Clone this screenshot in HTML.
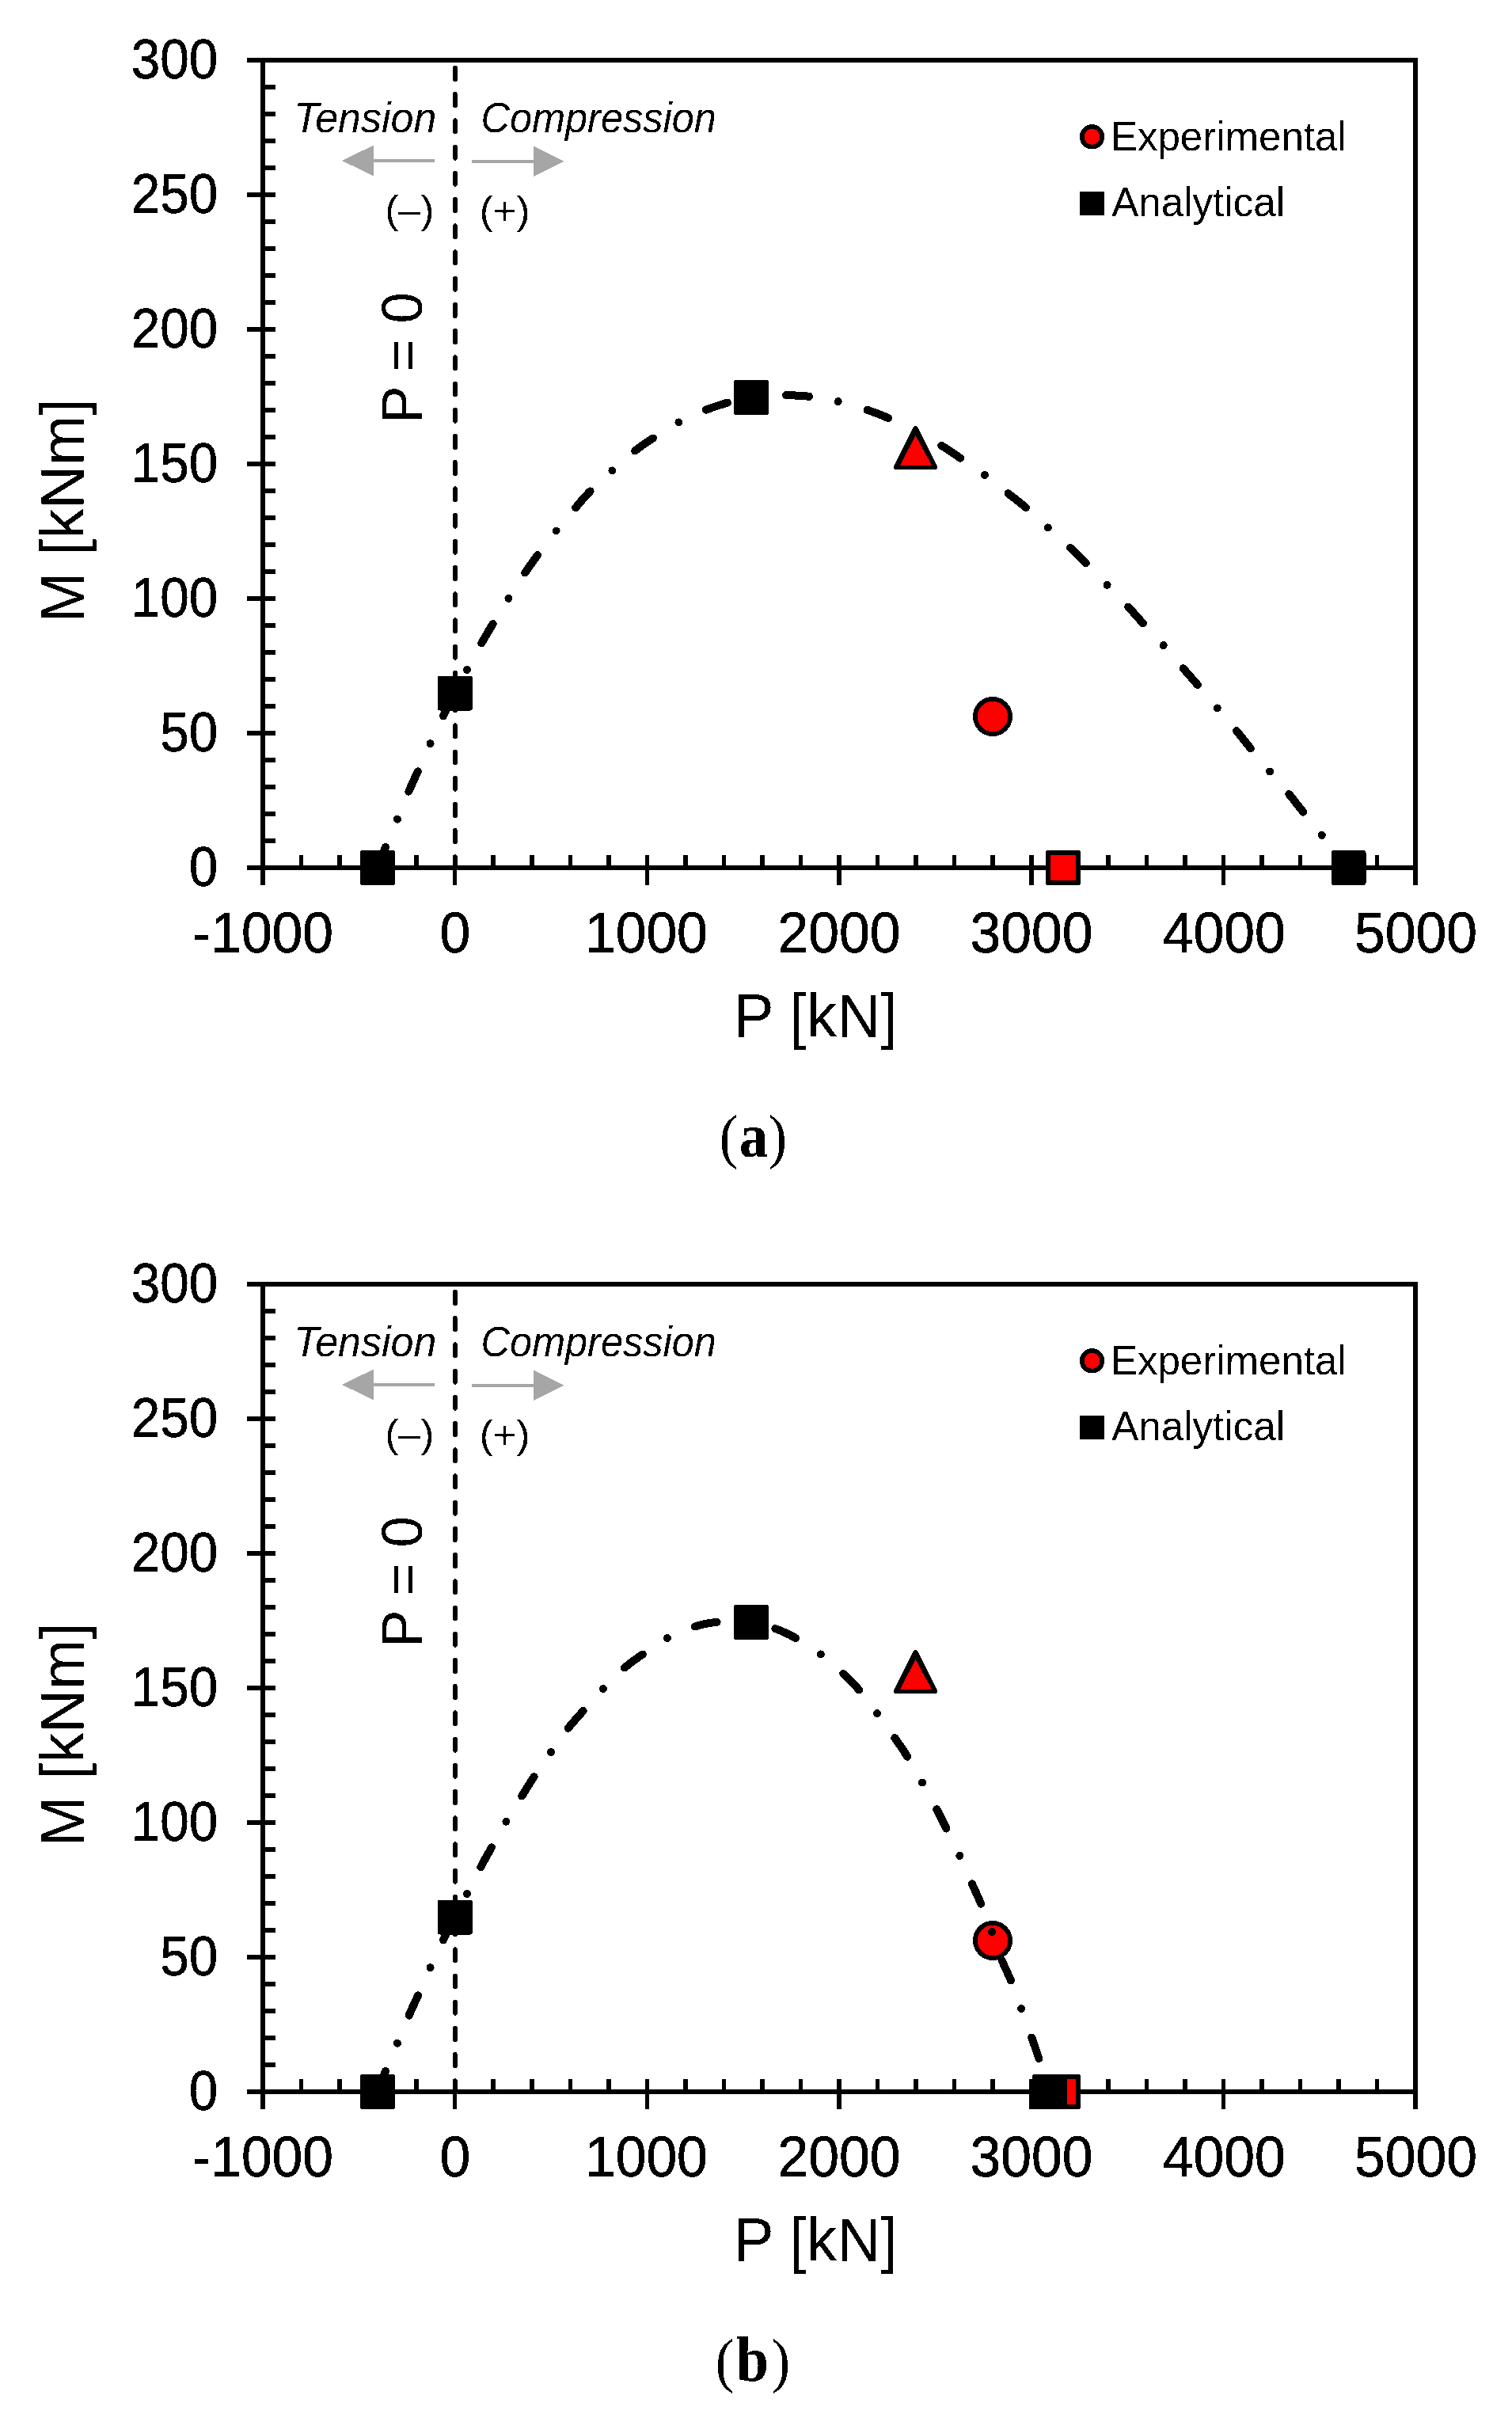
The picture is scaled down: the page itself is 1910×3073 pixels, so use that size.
<!DOCTYPE html>
<html lang="en">
<head>
<meta charset="utf-8">
<title>P-M interaction diagrams</title>
<style>
html,body{margin:0;padding:0;background:#fff}
body{width:1910px;height:3073px;overflow:hidden}
svg{display:block}
text{white-space:pre}
</style>
</head>
<body>
<svg width="1910" height="3073" viewBox="0 0 1910 3073" font-family="'Liberation Sans', Arial, Helvetica, sans-serif" fill="#000" shape-rendering="crispEdges">
<defs><filter id="bw" filterUnits="userSpaceOnUse" x="0" y="0" width="1910" height="1540" color-interpolation-filters="sRGB"><feComponentTransfer><feFuncA type="discrete" tableValues="0 1"/></feComponentTransfer></filter></defs>
<rect width="1910" height="3073" fill="#fff"/>
<g><rect x="312" y="73.23" width="1478.97" height="5.54" fill="#000"/>
<rect x="312" y="1093.23" width="1478.97" height="5.54" fill="#000"/>
<rect x="329.23" y="73.23" width="5.54" height="1044.77" fill="#000"/>
<rect x="1785.43" y="73.23" width="5.54" height="1044.77" fill="#000"/>
<rect x="312" y="1093.23" width="36" height="5.54" fill="#000"/>
<rect x="332" y="1059.23" width="16" height="5.54" fill="#000"/>
<rect x="332" y="1025.23" width="16" height="5.54" fill="#000"/>
<rect x="332" y="991.23" width="16" height="5.54" fill="#000"/>
<rect x="332" y="957.23" width="16" height="5.54" fill="#000"/>
<rect x="312" y="923.23" width="36" height="5.54" fill="#000"/>
<rect x="332" y="889.23" width="16" height="5.54" fill="#000"/>
<rect x="332" y="855.23" width="16" height="5.54" fill="#000"/>
<rect x="332" y="821.23" width="16" height="5.54" fill="#000"/>
<rect x="332" y="787.23" width="16" height="5.54" fill="#000"/>
<rect x="312" y="753.23" width="36" height="5.54" fill="#000"/>
<rect x="332" y="719.23" width="16" height="5.54" fill="#000"/>
<rect x="332" y="685.23" width="16" height="5.54" fill="#000"/>
<rect x="332" y="651.23" width="16" height="5.54" fill="#000"/>
<rect x="332" y="617.23" width="16" height="5.54" fill="#000"/>
<rect x="312" y="583.23" width="36" height="5.54" fill="#000"/>
<rect x="332" y="549.23" width="16" height="5.54" fill="#000"/>
<rect x="332" y="515.23" width="16" height="5.54" fill="#000"/>
<rect x="332" y="481.23" width="16" height="5.54" fill="#000"/>
<rect x="332" y="447.23" width="16" height="5.54" fill="#000"/>
<rect x="312" y="413.23" width="36" height="5.54" fill="#000"/>
<rect x="332" y="379.23" width="16" height="5.54" fill="#000"/>
<rect x="332" y="345.23" width="16" height="5.54" fill="#000"/>
<rect x="332" y="311.23" width="16" height="5.54" fill="#000"/>
<rect x="332" y="277.23" width="16" height="5.54" fill="#000"/>
<rect x="312" y="243.23" width="36" height="5.54" fill="#000"/>
<rect x="332" y="209.23" width="16" height="5.54" fill="#000"/>
<rect x="332" y="175.23" width="16" height="5.54" fill="#000"/>
<rect x="332" y="141.23" width="16" height="5.54" fill="#000"/>
<rect x="332" y="107.23" width="16" height="5.54" fill="#000"/>
<rect x="312" y="73.23" width="36" height="5.54" fill="#000"/>
<rect x="329.23" y="1080" width="5.54" height="38" fill="#000"/>
<rect x="377.77" y="1080" width="5.54" height="16" fill="#000"/>
<rect x="426.31" y="1080" width="5.54" height="16" fill="#000"/>
<rect x="474.85" y="1080" width="5.54" height="16" fill="#000"/>
<rect x="523.39" y="1080" width="5.54" height="16" fill="#000"/>
<rect x="571.93" y="1080" width="5.54" height="38" fill="#000"/>
<rect x="620.47" y="1080" width="5.54" height="16" fill="#000"/>
<rect x="669.01" y="1080" width="5.54" height="16" fill="#000"/>
<rect x="717.55" y="1080" width="5.54" height="16" fill="#000"/>
<rect x="766.09" y="1080" width="5.54" height="16" fill="#000"/>
<rect x="814.63" y="1080" width="5.54" height="38" fill="#000"/>
<rect x="863.17" y="1080" width="5.54" height="16" fill="#000"/>
<rect x="911.71" y="1080" width="5.54" height="16" fill="#000"/>
<rect x="960.25" y="1080" width="5.54" height="16" fill="#000"/>
<rect x="1008.79" y="1080" width="5.54" height="16" fill="#000"/>
<rect x="1057.33" y="1080" width="5.54" height="38" fill="#000"/>
<rect x="1105.87" y="1080" width="5.54" height="16" fill="#000"/>
<rect x="1154.41" y="1080" width="5.54" height="16" fill="#000"/>
<rect x="1202.95" y="1080" width="5.54" height="16" fill="#000"/>
<rect x="1251.49" y="1080" width="5.54" height="16" fill="#000"/>
<rect x="1300.03" y="1080" width="5.54" height="38" fill="#000"/>
<rect x="1348.57" y="1080" width="5.54" height="16" fill="#000"/>
<rect x="1397.11" y="1080" width="5.54" height="16" fill="#000"/>
<rect x="1445.65" y="1080" width="5.54" height="16" fill="#000"/>
<rect x="1494.19" y="1080" width="5.54" height="16" fill="#000"/>
<rect x="1542.73" y="1080" width="5.54" height="38" fill="#000"/>
<rect x="1591.27" y="1080" width="5.54" height="16" fill="#000"/>
<rect x="1639.81" y="1080" width="5.54" height="16" fill="#000"/>
<rect x="1688.35" y="1080" width="5.54" height="16" fill="#000"/>
<rect x="1736.89" y="1080" width="5.54" height="16" fill="#000"/>
<rect x="1785.43" y="1080" width="5.54" height="38" fill="#000"/>
<path d="M575 85.67V1096.5" fill="none" stroke="#000" stroke-width="5.54" stroke-linecap="round" stroke-dasharray="14.56 18.654"/>
<rect x="470" y="200.8" width="78.8" height="4.3" fill="#a6a6a6"/>
<path d="M431.9 202.9L471.7 183.6V222.2Z" fill="#a6a6a6"/>
<rect x="595.9" y="201.9" width="79.1" height="4.3" fill="#a6a6a6"/>
<path d="M712.2 203.7L673.8 184.2V223.2Z" fill="#a6a6a6"/>
<circle cx="1379.5" cy="172.8" r="12.8" fill="#f00" stroke="#000" stroke-width="5.75"/>
<rect x="1364" y="242" width="31" height="30" fill="#000"/>
<path d="M476.9 1096C478.58 1091.67 482.83 1080.22 487 1070M516.4 999.6C520.7 989.55 523.17 984.47 527.7 974.4M560 904.3C564.73 894.1 567.02 887.73 572 878M608.3 812.4C613.75 802.75 616.92 797.43 622.6 788M663.3 723.5C669.42 714.38 672.55 709.93 679.1 701.1M727.1 641.2C734.27 632.85 737.88 628.2 745.6 620.4M802.1 569.4C810.7 562.58 815.78 559.5 825 553.5M891.9 517.7C902.15 513.58 908.22 511.68 918.9 508.7M993.1 499.2C1004.12 499.37 1011.17 499.48 1022.1 500.8M1095.5 517.7C1106.07 521.18 1111.93 523.45 1122.1 528M1189.3 562.9C1198.73 568.5 1204 572.43 1213.1 578.6M1273.6 623.3C1282.28 630.17 1287.63 633.92 1296 641.1M1352 691.9C1360 699.37 1364.03 703.38 1371.8 711.2M1425.2 766.5C1432.75 774.58 1436.48 779.2 1443.9 787.3M1494.7 844.2C1501.9 852.53 1505.73 856.73 1512.9 865.1M1562.1 923.2C1569.12 931.68 1572.8 936.75 1579.8 945.3M1628.3 1003C1635.32 1011.52 1639.28 1016.95 1646.2 1025.6M1692 1082C1697.62 1088.85 1701.58 1093.67 1703.5 1096M501.9 1034.7h0.01M543.6 939.2h0.01M589.9 845.9h0.01M642.4 755.8h0.01M702.6 670.5h0.01M773.4 594.4h0.01M857.4 533.4h0.01M956 499.8h0.01M1058.7 507.1h0.01M1156.5 545h0.01M1243.9 599.9h0.01M1323.8 666.4h0.01M1398.6 738.8h0.01M1469.7 815.1h0.01M1537.7 894.4h0.01M1604.1 974.5h0.01M1669.8 1054.9h0.01" fill="none" stroke="#000" stroke-width="10" stroke-linecap="round"/>
<rect x="457.67" y="1076.77" width="38.46" height="38.46" fill="#000" stroke="#000" stroke-width="5.54" stroke-linejoin="round"/>
<rect x="555.57" y="856.27" width="38.46" height="38.46" fill="#000" stroke="#000" stroke-width="5.54" stroke-linejoin="round"/>
<rect x="929.77" y="482.97" width="38.46" height="38.46" fill="#000" stroke="#000" stroke-width="5.54" stroke-linejoin="round"/>
<rect x="1684.27" y="1076.77" width="38.46" height="38.46" fill="#000" stroke="#000" stroke-width="5.54" stroke-linejoin="round"/>
<path d="M1156.5 541L1132 590L1181 590Z" fill="#000" stroke="#000" stroke-width="6" stroke-linejoin="round"/><path d="M1156.6 550L1136.8 588L1177.1 588Z" fill="#f00"/>
<circle cx="1254" cy="905" r="22.1" fill="#f00" stroke="#000" stroke-width="5.8"/>
<rect x="1323.77" y="1076.77" width="38.46" height="38.46" fill="#f00" stroke="#000" stroke-width="5.54" stroke-linejoin="round"/>
<g filter="url(#bw)">
<text transform="translate(238.79 1118.8) scale(0.9420 1.0000)" font-size="69.67" stroke="#000" stroke-width="0.6">0</text>
<text transform="translate(202.29 948.8) scale(0.9420 1.0000)" font-size="69.67" stroke="#000" stroke-width="0.6">50</text>
<text transform="translate(165.78 778.8) scale(0.9420 1.0000)" font-size="69.67" stroke="#000" stroke-width="0.6">100</text>
<text transform="translate(165.78 608.8) scale(0.9420 1.0000)" font-size="69.67" stroke="#000" stroke-width="0.6">150</text>
<text transform="translate(165.78 438.8) scale(0.9420 1.0000)" font-size="69.67" stroke="#000" stroke-width="0.6">200</text>
<text transform="translate(165.78 268.8) scale(0.9420 1.0000)" font-size="69.67" stroke="#000" stroke-width="0.6">250</text>
<text transform="translate(165.78 98.8) scale(0.9420 1.0000)" font-size="69.67" stroke="#000" stroke-width="0.6">300</text>
<text transform="translate(242.95 1202.5) scale(1.0000 1.0350)" font-size="69.67" stroke="#000" stroke-width="0.6">-1000</text>
<text transform="translate(555.53 1202.5) scale(1.0000 1.0350)" font-size="69.67" stroke="#000" stroke-width="0.6">0</text>
<text transform="translate(738.91 1202.5) scale(1.0000 1.0350)" font-size="69.67" stroke="#000" stroke-width="0.6">1000</text>
<text transform="translate(982.49 1202.5) scale(1.0000 1.0350)" font-size="69.67" stroke="#000" stroke-width="0.6">2000</text>
<text transform="translate(1225.62 1202.5) scale(1.0000 1.0350)" font-size="69.67" stroke="#000" stroke-width="0.6">3000</text>
<text transform="translate(1468.83 1202.5) scale(1.0000 1.0350)" font-size="69.67" stroke="#000" stroke-width="0.6">4000</text>
<text transform="translate(1710.96 1202.5) scale(1.0000 1.0350)" font-size="69.67" stroke="#000" stroke-width="0.6">5000</text>
<text transform="translate(926.49 1309.8) scale(1.0089 1.0200)" font-size="76">P [kN]</text>
<text transform="translate(106.05 786.04) rotate(-90) scale(0.9989 1.0200)" font-size="76">M [kNm]</text>
<text transform="translate(533.1 534.73) rotate(-90) scale(1.0139 1.0400)" font-size="69.67">P = 0</text>
<text transform="translate(371.15 167.1) scale(1.0000 1.0300)" font-size="52" font-style="italic">Tension</text>
<text transform="translate(607.41 166.9) scale(0.9714 1.0300)" font-size="52" font-style="italic">Compression</text>
<text transform="translate(486.38 282.1) scale(0.9996 1.0000)" font-size="50.67">(–)</text>
<text transform="translate(605.86 282.5) scale(1.0035 1.0000)" font-size="50.67">(+)</text>
<text transform="translate(1402.95 190) scale(1.0069 1.0200)" font-size="50.67">Experimental</text>
<text transform="translate(1404.17 273.3) scale(1.0097 1.0200)" font-size="50.67">Analytical</text>
<text transform="translate(0 1460.8) scale(0.887 0.955)" font-size="80" font-family="'Liberation Serif', 'Palatino Linotype', Palatino, serif"><tspan x="1024.46">(</tspan><tspan x="1052.66" font-weight="bold" font-size="82">a</tspan><tspan x="1094.22">)</tspan></text>
</g></g>
<g transform="translate(0 1546)"><rect x="312" y="73.23" width="1478.97" height="5.54" fill="#000"/>
<rect x="312" y="1093.23" width="1478.97" height="5.54" fill="#000"/>
<rect x="329.23" y="73.23" width="5.54" height="1044.77" fill="#000"/>
<rect x="1785.43" y="73.23" width="5.54" height="1044.77" fill="#000"/>
<rect x="312" y="1093.23" width="36" height="5.54" fill="#000"/>
<rect x="332" y="1059.23" width="16" height="5.54" fill="#000"/>
<rect x="332" y="1025.23" width="16" height="5.54" fill="#000"/>
<rect x="332" y="991.23" width="16" height="5.54" fill="#000"/>
<rect x="332" y="957.23" width="16" height="5.54" fill="#000"/>
<rect x="312" y="923.23" width="36" height="5.54" fill="#000"/>
<rect x="332" y="889.23" width="16" height="5.54" fill="#000"/>
<rect x="332" y="855.23" width="16" height="5.54" fill="#000"/>
<rect x="332" y="821.23" width="16" height="5.54" fill="#000"/>
<rect x="332" y="787.23" width="16" height="5.54" fill="#000"/>
<rect x="312" y="753.23" width="36" height="5.54" fill="#000"/>
<rect x="332" y="719.23" width="16" height="5.54" fill="#000"/>
<rect x="332" y="685.23" width="16" height="5.54" fill="#000"/>
<rect x="332" y="651.23" width="16" height="5.54" fill="#000"/>
<rect x="332" y="617.23" width="16" height="5.54" fill="#000"/>
<rect x="312" y="583.23" width="36" height="5.54" fill="#000"/>
<rect x="332" y="549.23" width="16" height="5.54" fill="#000"/>
<rect x="332" y="515.23" width="16" height="5.54" fill="#000"/>
<rect x="332" y="481.23" width="16" height="5.54" fill="#000"/>
<rect x="332" y="447.23" width="16" height="5.54" fill="#000"/>
<rect x="312" y="413.23" width="36" height="5.54" fill="#000"/>
<rect x="332" y="379.23" width="16" height="5.54" fill="#000"/>
<rect x="332" y="345.23" width="16" height="5.54" fill="#000"/>
<rect x="332" y="311.23" width="16" height="5.54" fill="#000"/>
<rect x="332" y="277.23" width="16" height="5.54" fill="#000"/>
<rect x="312" y="243.23" width="36" height="5.54" fill="#000"/>
<rect x="332" y="209.23" width="16" height="5.54" fill="#000"/>
<rect x="332" y="175.23" width="16" height="5.54" fill="#000"/>
<rect x="332" y="141.23" width="16" height="5.54" fill="#000"/>
<rect x="332" y="107.23" width="16" height="5.54" fill="#000"/>
<rect x="312" y="73.23" width="36" height="5.54" fill="#000"/>
<rect x="329.23" y="1080" width="5.54" height="38" fill="#000"/>
<rect x="377.77" y="1080" width="5.54" height="16" fill="#000"/>
<rect x="426.31" y="1080" width="5.54" height="16" fill="#000"/>
<rect x="474.85" y="1080" width="5.54" height="16" fill="#000"/>
<rect x="523.39" y="1080" width="5.54" height="16" fill="#000"/>
<rect x="571.93" y="1080" width="5.54" height="38" fill="#000"/>
<rect x="620.47" y="1080" width="5.54" height="16" fill="#000"/>
<rect x="669.01" y="1080" width="5.54" height="16" fill="#000"/>
<rect x="717.55" y="1080" width="5.54" height="16" fill="#000"/>
<rect x="766.09" y="1080" width="5.54" height="16" fill="#000"/>
<rect x="814.63" y="1080" width="5.54" height="38" fill="#000"/>
<rect x="863.17" y="1080" width="5.54" height="16" fill="#000"/>
<rect x="911.71" y="1080" width="5.54" height="16" fill="#000"/>
<rect x="960.25" y="1080" width="5.54" height="16" fill="#000"/>
<rect x="1008.79" y="1080" width="5.54" height="16" fill="#000"/>
<rect x="1057.33" y="1080" width="5.54" height="38" fill="#000"/>
<rect x="1105.87" y="1080" width="5.54" height="16" fill="#000"/>
<rect x="1154.41" y="1080" width="5.54" height="16" fill="#000"/>
<rect x="1202.95" y="1080" width="5.54" height="16" fill="#000"/>
<rect x="1251.49" y="1080" width="5.54" height="16" fill="#000"/>
<rect x="1300.03" y="1080" width="5.54" height="38" fill="#000"/>
<rect x="1348.57" y="1080" width="5.54" height="16" fill="#000"/>
<rect x="1397.11" y="1080" width="5.54" height="16" fill="#000"/>
<rect x="1445.65" y="1080" width="5.54" height="16" fill="#000"/>
<rect x="1494.19" y="1080" width="5.54" height="16" fill="#000"/>
<rect x="1542.73" y="1080" width="5.54" height="38" fill="#000"/>
<rect x="1591.27" y="1080" width="5.54" height="16" fill="#000"/>
<rect x="1639.81" y="1080" width="5.54" height="16" fill="#000"/>
<rect x="1688.35" y="1080" width="5.54" height="16" fill="#000"/>
<rect x="1736.89" y="1080" width="5.54" height="16" fill="#000"/>
<rect x="1785.43" y="1080" width="5.54" height="38" fill="#000"/>
<path d="M575 85.67V1096.5" fill="none" stroke="#000" stroke-width="5.54" stroke-linecap="round" stroke-dasharray="14.56 18.654"/>
<rect x="470" y="200.8" width="78.8" height="4.3" fill="#a6a6a6"/>
<path d="M431.9 202.9L471.7 183.6V222.2Z" fill="#a6a6a6"/>
<rect x="595.9" y="201.9" width="79.1" height="4.3" fill="#a6a6a6"/>
<path d="M712.2 203.7L673.8 184.2V223.2Z" fill="#a6a6a6"/>
<circle cx="1379.5" cy="172.8" r="12.8" fill="#f00" stroke="#000" stroke-width="5.75"/>
<rect x="1364" y="242" width="31" height="30" fill="#000"/>
<path d="M1156.5 541L1132 590L1181 590Z" fill="#000" stroke="#000" stroke-width="6" stroke-linejoin="round"/><path d="M1156.6 550L1136.8 588L1177.1 588Z" fill="#f00"/>
<circle cx="1254" cy="905" r="22.1" fill="#f00" stroke="#000" stroke-width="5.8"/>
<rect x="1323.77" y="1076.77" width="38.46" height="38.46" fill="#f00" stroke="#000" stroke-width="5.54" stroke-linejoin="round"/>
<path d="M476.9 1096C478.58 1091.67 482.83 1080.22 487 1070M516.6 999.6C520.95 989.55 523.5 984.47 528 974.4M560 904.3C564.73 894.1 567.02 887.73 572 878M607.3 812.2C612.48 802.45 615.65 796.98 621 787.4M659.3 722.5C665.17 713.07 668.48 707.35 674.6 698.1M717.8 636.8C724.58 628.13 729.35 623.3 736.7 615M789 560.5C797.3 553.27 802.72 549.85 811.7 543.6M877.6 508.5C888.05 505.13 894.53 503.97 905.6 502.8M979.4 511.1C989.6 514.68 995.63 517.62 1005.2 523M1065.2 567.9C1073.27 575.42 1078.05 580.12 1085.2 588.5M1130.3 649C1136.65 658.1 1140.42 663.38 1146.2 672.8M1183.3 739.2C1188.38 748.88 1190.67 753.82 1195.5 763.6M1227.9 833.4C1232.38 843.52 1235 848.48 1239.2 858.6M1265.5 929.5C1269.47 939.72 1272.78 945.13 1276.9 955.4M1303.3 1027.5C1306.98 1037.98 1309.02 1043.75 1312.3 1054M501.9 1034.7h0.01M543.6 939.2h0.01M589.9 845.9h0.01M639.4 754.7h0.01M696 667h0.01M761.9 587h0.01M842.9 523h0.01M944 501.5h0.01M1036.8 543.4h0.01M1108.1 618.2h0.01M1165 705.5h0.01M1212.3 797.9h0.01M1253.1 894.1h0.01M1290.2 991.1h0.01M1323 1089h0.01" fill="none" stroke="#000" stroke-width="10" stroke-linecap="round"/>
<rect x="457.67" y="1076.77" width="38.46" height="38.46" fill="#000" stroke="#000" stroke-width="5.54" stroke-linejoin="round"/>
<rect x="555.57" y="856.27" width="38.46" height="38.46" fill="#000" stroke="#000" stroke-width="5.54" stroke-linejoin="round"/>
<rect x="929.77" y="483.57" width="38.46" height="38.46" fill="#000" stroke="#000" stroke-width="5.54" stroke-linejoin="round"/>
<rect x="1306.87" y="1076.77" width="38.46" height="38.46" fill="#000" stroke="#000" stroke-width="5.54" stroke-linejoin="round"/>
<g filter="url(#bw)">
<text transform="translate(238.79 1118.8) scale(0.9420 1.0000)" font-size="69.67" stroke="#000" stroke-width="0.6">0</text>
<text transform="translate(202.29 948.8) scale(0.9420 1.0000)" font-size="69.67" stroke="#000" stroke-width="0.6">50</text>
<text transform="translate(165.78 778.8) scale(0.9420 1.0000)" font-size="69.67" stroke="#000" stroke-width="0.6">100</text>
<text transform="translate(165.78 608.8) scale(0.9420 1.0000)" font-size="69.67" stroke="#000" stroke-width="0.6">150</text>
<text transform="translate(165.78 438.8) scale(0.9420 1.0000)" font-size="69.67" stroke="#000" stroke-width="0.6">200</text>
<text transform="translate(165.78 268.8) scale(0.9420 1.0000)" font-size="69.67" stroke="#000" stroke-width="0.6">250</text>
<text transform="translate(165.78 98.8) scale(0.9420 1.0000)" font-size="69.67" stroke="#000" stroke-width="0.6">300</text>
<text transform="translate(242.95 1202.5) scale(1.0000 1.0350)" font-size="69.67" stroke="#000" stroke-width="0.6">-1000</text>
<text transform="translate(555.53 1202.5) scale(1.0000 1.0350)" font-size="69.67" stroke="#000" stroke-width="0.6">0</text>
<text transform="translate(738.91 1202.5) scale(1.0000 1.0350)" font-size="69.67" stroke="#000" stroke-width="0.6">1000</text>
<text transform="translate(982.49 1202.5) scale(1.0000 1.0350)" font-size="69.67" stroke="#000" stroke-width="0.6">2000</text>
<text transform="translate(1225.62 1202.5) scale(1.0000 1.0350)" font-size="69.67" stroke="#000" stroke-width="0.6">3000</text>
<text transform="translate(1468.83 1202.5) scale(1.0000 1.0350)" font-size="69.67" stroke="#000" stroke-width="0.6">4000</text>
<text transform="translate(1710.96 1202.5) scale(1.0000 1.0350)" font-size="69.67" stroke="#000" stroke-width="0.6">5000</text>
<text transform="translate(926.49 1309.8) scale(1.0089 1.0200)" font-size="76">P [kN]</text>
<text transform="translate(106.05 786.04) rotate(-90) scale(0.9989 1.0200)" font-size="76">M [kNm]</text>
<text transform="translate(533.1 534.73) rotate(-90) scale(1.0139 1.0400)" font-size="69.67">P = 0</text>
<text transform="translate(371.15 167.1) scale(1.0000 1.0300)" font-size="52" font-style="italic">Tension</text>
<text transform="translate(607.41 166.9) scale(0.9714 1.0300)" font-size="52" font-style="italic">Compression</text>
<text transform="translate(486.38 282.1) scale(0.9996 1.0000)" font-size="50.67">(–)</text>
<text transform="translate(605.86 282.5) scale(1.0035 1.0000)" font-size="50.67">(+)</text>
<text transform="translate(1402.95 190) scale(1.0069 1.0200)" font-size="50.67">Experimental</text>
<text transform="translate(1404.17 273.3) scale(1.0097 1.0200)" font-size="50.67">Analytical</text>
<text transform="translate(0 1460.8) scale(0.887 0.955)" font-size="80" font-family="'Liberation Serif', 'Palatino Linotype', Palatino, serif"><tspan x="1018.82">(</tspan><tspan x="1048.33" font-weight="bold" font-size="84">b</tspan><tspan x="1098.73">)</tspan></text>
</g></g>
</svg>
</body>
</html>
